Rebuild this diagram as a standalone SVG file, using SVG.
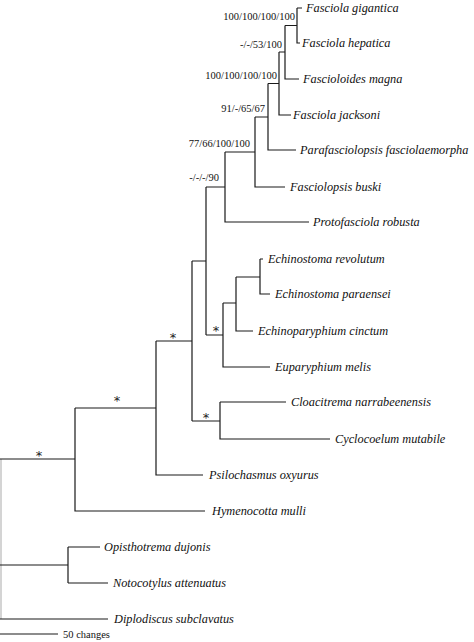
<svg xmlns="http://www.w3.org/2000/svg" width="474" height="642" viewBox="0 0 474 642">
<style>
.br{fill:none;stroke:#1a1a1a;stroke-width:1.2}
.root{fill:none;stroke:#d4d4d4;stroke-width:2}
.tx{font-family:"Liberation Serif","Times New Roman",serif;font-style:italic;font-size:12.3px;fill:#111}
.sp{font-family:"Liberation Serif","Times New Roman",serif;font-size:10.5px;fill:#111;text-anchor:end}
.st{font-family:"DejaVu Sans",sans-serif;font-size:13px;fill:#222;text-anchor:middle}
.sc{font-family:"Liberation Serif","Times New Roman",serif;font-size:10.5px;fill:#111}
</style>
<rect width="474" height="642" fill="#fff"/>
<g id="connectors">
<path class="root" d="M1,459V619"/>
<path class="br" d="M297,8H302M297,8V43H300"/>
<path class="br" d="M285,25.5H297M285,25.5V79H299"/>
<path class="br" d="M279,52H285M279,52V115H291"/>
<path class="br" d="M268,83.5H279M268,83.5V150H296"/>
<path class="br" d="M255,117H268M255,117V187H285"/>
<path class="br" d="M225,152H255M225,152V222H309"/>
<path class="br" d="M206,187H225M206,187V335"/>
<path class="br" d="M206,335H223M223,303V367H270"/>
<path class="br" d="M223,303H236M236,277V331H253"/>
<path class="br" d="M236,277H260M260,259H263M260,259V294H270"/>
<path class="br" d="M192,261H206M192,261V421"/>
<path class="br" d="M192,421H220M220,402H286M220,402V439H330"/>
<path class="br" d="M156,341H192M156,341V475H203"/>
<path class="br" d="M75,408H156M75,408V511H205"/>
<path class="br" d="M0,459H75"/>
<path class="br" d="M0,565H68M68,547V583M68,547H100M68,583H108"/>
<path class="br" d="M0,619H108"/>
<path class="br" d="M0,634H58"/>
</g>
<g id="n-gigantica"><text class="tx" x="306" y="12">Fasciola gigantica</text></g>
<g id="n-hepatica"><text class="tx" x="302" y="47">Fasciola hepatica</text></g>
<g id="n-magna"><text class="tx" x="303" y="83">Fascioloides magna</text></g>
<g id="n-jacksoni"><text class="tx" x="293" y="119">Fasciola jacksoni</text></g>
<g id="n-parafasciolopsis"><text class="tx" x="300" y="154">Parafasciolopsis fasciolaemorpha</text></g>
<g id="n-buski"><text class="tx" x="290" y="191">Fasciolopsis buski</text></g>
<g id="n-protofasciola"><text class="tx" x="313" y="226">Protofasciola robusta</text></g>
<g id="n-revolutum"><text class="tx" x="268" y="263">Echinostoma revolutum</text></g>
<g id="n-paraensei"><text class="tx" x="275" y="298">Echinostoma paraensei</text></g>
<g id="n-cinctum"><text class="tx" x="258" y="335">Echinoparyphium cinctum</text></g>
<g id="n-melis"><text class="tx" x="275" y="371">Euparyphium melis</text></g>
<g id="n-cloacitrema"><text class="tx" x="291" y="406">Cloacitrema narrabeenensis</text></g>
<g id="n-cyclocoelum"><text class="tx" x="335" y="443">Cyclocoelum mutabile</text></g>
<g id="n-psilochasmus"><text class="tx" x="209" y="479">Psilochasmus oxyurus</text></g>
<g id="n-hymenocotta"><text class="tx" x="212" y="515">Hymenocotta mulli</text></g>
<g id="n-opisthotrema"><text class="tx" x="104" y="551">Opisthotrema dujonis</text></g>
<g id="n-notocotylus"><text class="tx" x="113" y="587">Notocotylus attenuatus</text></g>
<g id="n-diplodiscus"><text class="tx" x="114" y="623">Diplodiscus subclavatus</text></g>
<g id="support">
<text class="sp" x="295" y="20">100/100/100/100</text>
<text class="sp" x="282" y="48">-/-/53/100</text>
<text class="sp" x="277" y="79">100/100/100/100</text>
<text class="sp" x="265" y="112">91/-/65/67</text>
<text class="sp" x="250" y="147">77/66/100/100</text>
<text class="sp" x="219" y="181">-/-/-/90</text>
<text class="st" x="173" y="342">*</text>
<text class="st" x="216" y="335">*</text>
<text class="st" x="206" y="422">*</text>
<text class="st" x="117" y="405">*</text>
<text class="st" x="39" y="460">*</text>
</g>
<g id="scale"><text class="sc" x="63" y="638">50 changes</text></g>
</svg>
